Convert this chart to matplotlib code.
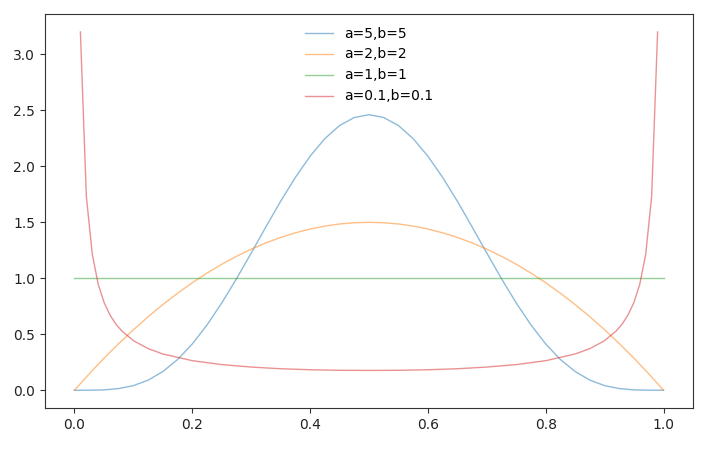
import matplotlib
matplotlib.use("Agg")
import matplotlib.pyplot as plt

# values
x_fine = [0.0, 0.025, 0.05, 0.075, 0.1, 0.125, 0.15, 0.175, 0.2, 0.225, 0.25,
          0.275, 0.3, 0.325, 0.35, 0.375, 0.4, 0.425, 0.45, 0.475, 0.5,
          0.525, 0.55, 0.575, 0.6, 0.625, 0.65, 0.675, 0.7, 0.725, 0.75,
          0.775, 0.8, 0.825, 0.85, 0.875, 0.9, 0.925, 0.95, 0.975, 1.0]

half_55 = [0.0, 0.0002, 0.003, 0.015, 0.041, 0.090, 0.167, 0.274, 0.413, 0.583,
           0.779, 0.995, 1.225, 1.459, 1.688, 1.901, 2.090, 2.247, 2.364, 2.436, 2.461]
y_55 = half_55 + half_55[-2::-1]

half_22 = [0.0, 0.146, 0.285, 0.416, 0.54, 0.656, 0.765, 0.866, 0.96, 1.046,
           1.125, 1.196, 1.26, 1.316, 1.365, 1.406, 1.44, 1.466, 1.485, 1.496, 1.5]
y_22 = half_22 + half_22[-2::-1]

x_11 = [0.0, 1.0]
y_11 = [1.0, 1.0]

x_red_half = [0.0101, 0.0202, 0.0303, 0.0404, 0.0505, 0.0606, 0.0707, 0.0808,
              0.101, 0.125, 0.15, 0.2, 0.25, 0.3, 0.35, 0.4, 0.45, 0.5]
y_red_half = [3.20, 1.731, 1.213, 0.945, 0.781, 0.669, 0.588, 0.527,
              0.440, 0.372, 0.324, 0.264, 0.229, 0.207, 0.192, 0.183, 0.178, 0.177]
x_red = x_red_half + [round(1 - v, 4) for v in x_red_half[-2::-1]]
y_red = y_red_half + y_red_half[-2::-1]

labels = ["a=5,b=5", "a=2,b=2", "a=1,b=1", "a=0.1,b=0.1"]

fig = plt.figure(figsize=(7.2, 4.53), dpi=100)
ax = fig.add_axes([0.0625, 0.099, 0.9, 0.870])

ax.plot(x_fine, y_55, alpha=0.5, lw=1.0, label=labels[0])
ax.plot(x_fine, y_22, alpha=0.5, lw=1.0, label=labels[1])
ax.plot(x_11, y_11, alpha=0.5, lw=1.0, label=labels[2])
ax.plot(x_red, y_red, alpha=0.5, lw=1.0, label=labels[3])

ax.set_xticks([0.0, 0.2, 0.4, 0.6, 0.8, 1.0])
ax.set_yticks([0.0, 0.5, 1.0, 1.5, 2.0, 2.5, 3.0])
ax.tick_params(labelsize=10, colors="#333333", labelcolor="#222222")
for s in ax.spines.values():
    s.set_color("#333333")
ax.legend(loc="upper center", frameon=False, fontsize=10)

fig.savefig("out.png", dpi=100)
